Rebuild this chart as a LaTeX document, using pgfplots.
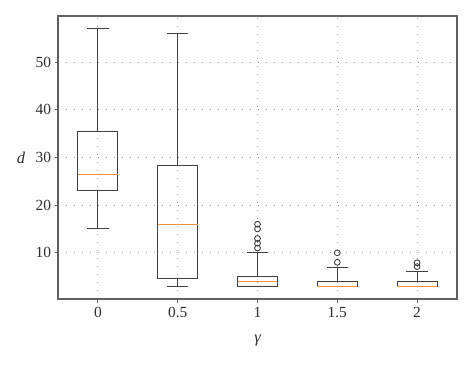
\documentclass[border=0pt]{standalone}
\usepackage{fontspec}
\setmainfont{Liberation Serif}
\usepackage{pgfplots}
\pgfplotsset{compat=1.18}
\usepgfplotslibrary{statistics}
\definecolor{boxc}{HTML}{404040}
\definecolor{framec}{HTML}{606060}
\definecolor{medc}{HTML}{EE9040}
\definecolor{gridc}{HTML}{9A9A9A}
\begin{document}
\begin{tikzpicture}
\begin{axis}[
  name=ax,
  scale only axis,
  width=399bp, height=283bp,
  xmin=0.5, xmax=5.5,
  ymin=0.3, ymax=59.7,
  xtick={1,2,3,4,5},
  xticklabels={0,0.5,1,1.5,2},
  ytick={10,20,30,40,50},
  /pgf/number format/assume math mode=true,
  tick pos=left,
  tick align=outside,
  major tick length=3.5bp,
  every tick/.style={framec, line width=1pt},
  axis line style={framec, line width=1.1pt},
  grid=major,
  major grid style={gridc, dash pattern=on 0.9bp off 7.1bp, line width=0.9pt},
  ticklabel style={font=\fontsize{15.5}{17}\selectfont, text=black!82},
  xticklabel style={yshift=-1bp},
  yticklabel style={xshift=0bp},
  xlabel={\itshape γ},
  ylabel={\itshape d},
  label style={font=\fontsize{16.5}{18}\selectfont, text=black!82},
  xlabel style={at={(rel axis cs:0.5,0)}, anchor=center, yshift=-41bp},
  ylabel style={at={(rel axis cs:0,0.5)}, anchor=center, rotate=-90, xshift=-37bp},
  boxplot/draw direction=y,
  boxplot/box extend=0.5,
  boxplot/whisker extend=0.27,
  boxplot/every box/.style={draw=boxc, line width=1pt, fill=none},
  boxplot/every whisker/.style={draw=boxc, line width=1pt},
  boxplot/every median/.style={draw=medc, line width=1.1pt},
  clip=false,
]
\addplot[boxc, mark=o, mark size=2.9bp, mark options={line width=0.9pt, draw=boxc},
  boxplot prepared={draw position=1, lower whisker=15, lower quartile=23,
    median=26.5, upper quartile=35.5, upper whisker=57}] coordinates {};
\addplot[boxc, mark=o, mark size=2.9bp, mark options={line width=0.9pt, draw=boxc},
  boxplot prepared={draw position=2, lower whisker=3, lower quartile=4.7,
    median=16, upper quartile=28.4, upper whisker=56}] coordinates {};
\addplot[boxc, mark=o, mark size=2.9bp, mark options={line width=0.9pt, draw=boxc},
  boxplot prepared={draw position=3, lower whisker=3, lower quartile=3,
    median=3.9, upper quartile=5, upper whisker=10}]
  coordinates {(3,11) (3,12) (3,13) (3,15) (3,16)};
\addplot[boxc, mark=o, mark size=2.9bp, mark options={line width=0.9pt, draw=boxc},
  boxplot prepared={draw position=4, lower whisker=3, lower quartile=3,
    median=3, upper quartile=4, upper whisker=7}]
  coordinates {(4,8) (4,10)};
\addplot[boxc, mark=o, mark size=2.9bp, mark options={line width=0.9pt, draw=boxc},
  boxplot prepared={draw position=5, lower whisker=3, lower quartile=3,
    median=3, upper quartile=3.9, upper whisker=6}]
  coordinates {(5,7.1) (5,7.9)};
\end{axis}
\pgfresetboundingbox
\path[use as bounding box] ([xshift=-58bp,yshift=-65bp]ax.south west) rectangle ([xshift=17bp,yshift=16bp]ax.north east);
\end{tikzpicture}
\end{document}
